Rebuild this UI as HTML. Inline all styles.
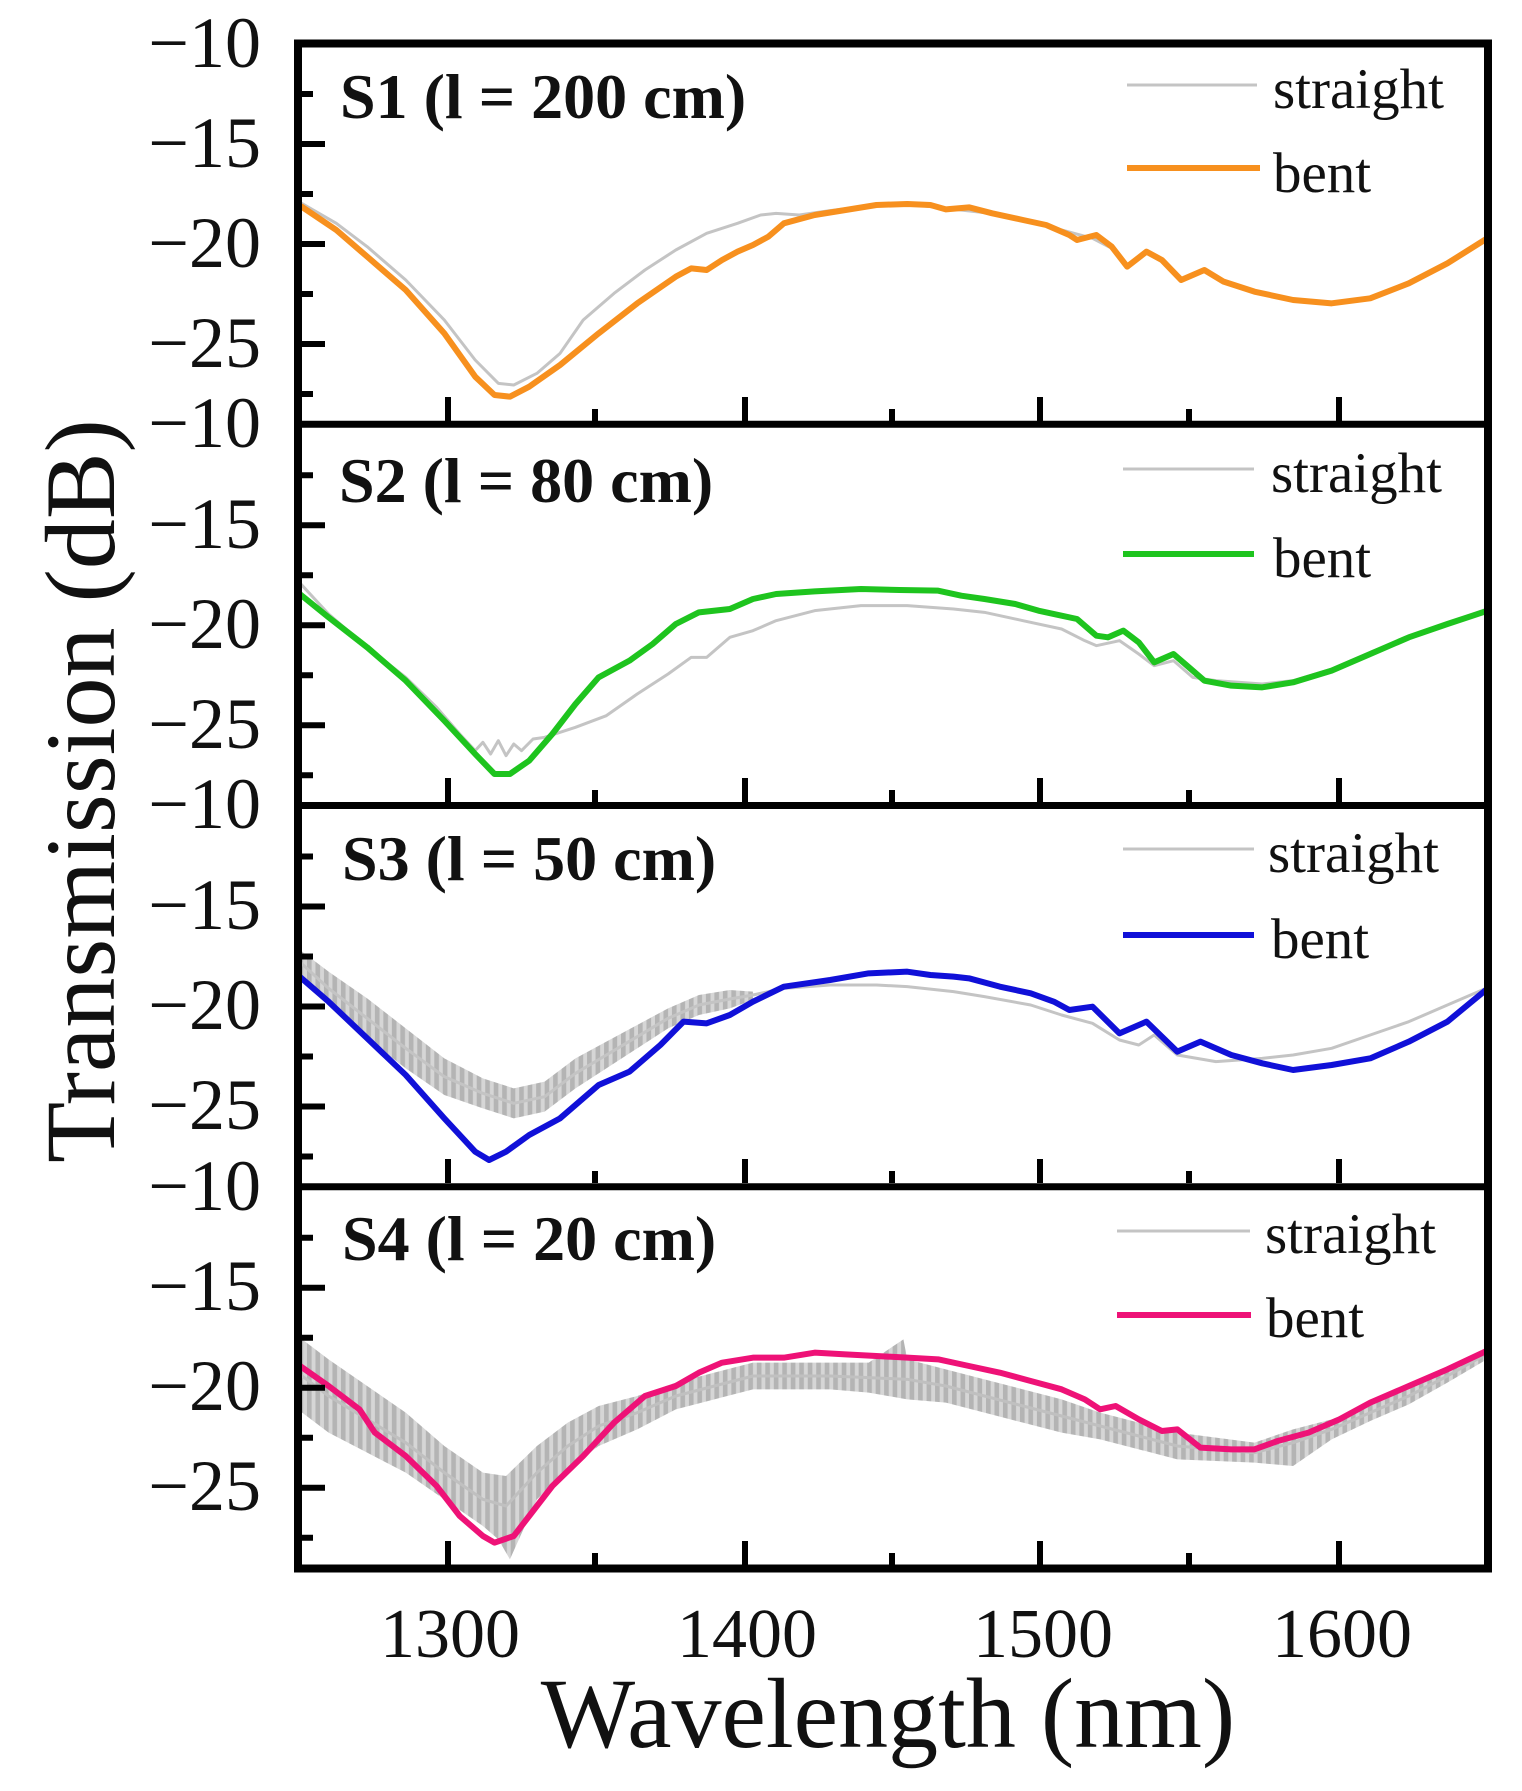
<!DOCTYPE html>
<html><head><meta charset="utf-8">
<style>html,body{margin:0;padding:0;background:#fff}svg{display:block}</style>
</head><body>
<svg xmlns="http://www.w3.org/2000/svg" width="1522" height="1791" viewBox="0 0 1522 1791">
<defs>
<clipPath id="c1"><rect x="300" y="45" width="1186" height="378"/></clipPath>
<clipPath id="c2"><rect x="300" y="426" width="1186" height="378"/></clipPath>
<clipPath id="c3"><rect x="300" y="807" width="1186" height="378"/></clipPath>
<clipPath id="c4"><rect x="300" y="1188" width="1186" height="378"/></clipPath>
<pattern id="st" patternUnits="userSpaceOnUse" width="11" height="40"><rect width="11" height="40" fill="#d6d6d6"/><rect width="6" height="40" fill="#b4b4b4"/></pattern>
</defs>
<rect width="1522" height="1791" fill="#fff"/>

<g fill="none" stroke-linejoin="round" stroke-linecap="round">
<!-- Panel 1 -->
<g clip-path="url(#c1)"><g transform="translate(290,180) scale(0.7716,0.33333)">
<path vector-effect="non-scaling-stroke" stroke="#c4c4c4" stroke-width="3" d="M15,70 L60,130 L100,200 L150,300 L200,420 L240,540 L270,610 L290,615 L320,580 L350,520 L380,420 L420,340 L460,270 L500,210 L540,160 L580,130 L610,105 L630,100 L660,105 L700,92 L760,75 L800,72 L850,85 L900,98 L950,120 L1000,150 L1040,175 L1065,205 L1085,255 L1110,220 L1130,245 L1155,295 L1185,275 L1210,305 L1250,335 L1300,360 L1350,370 L1400,355 L1450,310 L1500,250 L1555,170"/>
<path vector-effect="non-scaling-stroke" stroke="#f7901e" stroke-width="6" d="M15,80 L60,150 L100,230 L150,330 L200,460 L240,590 L265,645 L285,650 L310,620 L350,555 L400,460 L450,370 L500,290 L520,265 L540,270 L560,240 L580,215 L600,195 L620,170 L640,130 L680,105 L720,90 L760,75 L800,72 L830,75 L850,88 L880,82 L910,100 L950,120 L980,135 L1010,165 L1020,180 L1045,165 L1065,200 L1085,260 L1110,215 L1130,240 L1155,300 L1185,270 L1210,305 L1250,335 L1300,360 L1350,370 L1400,355 L1450,310 L1500,250 L1555,170"/>
</g></g>
<!-- Panel 2 -->
<g clip-path="url(#c2)"><g transform="translate(290,534) scale(0.7716,0.33333)">
<path vector-effect="non-scaling-stroke" stroke="#c4c4c4" stroke-width="3" d="M10,140 L50,240 L100,340 L150,430 L190,520 L220,600 L240,650 L250,625 L260,660 L270,620 L280,665 L290,630 L300,650 L315,615 L330,610 L370,580 L410,545 L450,480 L490,420 L520,370 L540,370 L570,310 L600,290 L630,260 L680,230 L740,215 L800,215 L860,225 L900,235 L950,260 L1000,285 L1030,320 L1045,335 L1075,320 L1100,360 L1120,395 L1145,380 L1170,430 L1200,440 L1260,450 L1300,440 L1350,405 L1400,355 L1450,310 L1500,268 L1555,222"/>
<path vector-effect="non-scaling-stroke" stroke="#1ec41e" stroke-width="6" d="M10,175 L50,250 L100,340 L150,440 L200,560 L240,660 L265,720 L285,720 L310,680 L340,600 L370,510 L400,430 L440,380 L470,330 L500,270 L530,235 L570,225 L600,195 L630,180 L680,172 L740,165 L790,168 L840,170 L870,185 L900,195 L940,210 L970,230 L1000,245 L1020,255 L1045,305 L1060,310 L1080,290 L1100,325 L1120,385 L1145,360 L1165,400 L1185,440 L1220,455 L1260,460 L1300,445 L1350,410 L1400,360 L1450,310 L1500,270 L1555,228"/>
</g></g>
<!-- Panel 3 -->
<g clip-path="url(#c3)"><g transform="translate(290,915) scale(0.7716,0.33333)">
<polygon fill="url(#st)" stroke="none" points="10,100 50,170 100,250 150,340 200,430 250,490 290,520 330,500 370,430 410,380 450,330 490,280 530,240 570,225 600,230 600,255 570,280 530,300 490,340 450,400 410,460 370,520 330,590 290,610 250,580 200,540 150,460 100,370 50,270 10,170"/>
<path vector-effect="non-scaling-stroke" stroke="#c4c4c4" stroke-width="3" d="M10,135 L50,220 L100,310 L150,400 L200,485 L250,535 L290,565 L330,545 L370,475 L410,420 L450,365 L490,310 L530,270 L570,252 L600,240 L640,220 L700,210 L760,210 L800,215 L860,230 L900,245 L960,270 L1000,300 L1040,325 L1075,375 L1100,390 L1120,360 L1150,420 L1200,440 L1260,430 L1300,420 L1350,400 L1400,360 L1450,320 L1500,270 L1555,215"/>
<path vector-effect="non-scaling-stroke" stroke="#1010d8" stroke-width="6" d="M10,180 L50,260 L100,370 L150,480 L200,610 L240,710 L258,735 L280,710 L310,660 L350,610 L400,510 L440,470 L480,390 L510,320 L540,325 L570,300 L600,260 L640,215 L700,195 L750,175 L800,170 L830,180 L860,185 L880,190 L920,215 L960,235 L990,260 L1010,285 L1040,275 L1075,355 L1110,320 L1150,410 L1180,380 L1220,420 L1260,445 L1300,465 L1350,450 L1400,430 L1450,380 L1500,320 L1555,215"/>
</g></g>
<!-- Panel 4 -->
<g clip-path="url(#c4)"><g transform="translate(290,1286) scale(0.7716,0.33333)">
<polygon fill="url(#st)" stroke="none" points="10,150 50,220 100,300 150,380 200,480 250,560 280,570 320,480 360,410 400,360 450,330 500,290 550,260 600,230 650,230 700,230 750,230 795,160 800,220 850,250 900,280 950,310 1000,340 1050,380 1100,410 1150,440 1200,455 1250,470 1300,430 1350,400 1400,355 1450,305 1500,250 1555,180 1555,215 1500,290 1450,355 1400,405 1350,460 1300,540 1250,530 1200,525 1150,520 1100,490 1050,460 1000,440 950,410 900,380 850,350 800,340 750,320 700,310 650,310 600,310 550,340 500,370 450,430 400,480 360,550 320,640 285,820 270,760 250,720 200,640 150,560 100,500 50,440 10,370"/>
<path vector-effect="non-scaling-stroke" stroke="#c0c0c0" stroke-width="3" d="M10,260 L50,330 L100,400 L150,470 L200,560 L250,640 L280,660 L320,560 L360,480 L400,420 L450,380 L500,330 L550,300 L600,270 L650,270 L700,270 L750,275 L800,280 L850,300 L900,330 L950,360 L1000,390 L1050,420 L1100,450 L1150,480 L1200,490 L1250,500 L1300,470 L1350,430 L1400,380 L1450,330 L1500,270 L1555,198"/>
<path vector-effect="non-scaling-stroke" stroke="#ee1277" stroke-width="6" d="M10,235 L50,300 L90,370 L110,440 L150,510 L190,600 L220,690 L250,750 L265,770 L290,750 L310,690 L340,600 L380,510 L420,410 L460,330 L500,300 L530,260 L560,230 L600,215 L640,215 L680,200 L720,205 L760,210 L800,215 L840,220 L880,240 L920,260 L960,285 L1000,310 L1030,340 L1050,370 L1070,360 L1100,400 L1130,435 L1150,430 L1180,485 L1220,490 L1250,490 L1280,465 L1320,440 L1360,400 L1400,350 L1450,300 L1500,250 L1555,190"/>
</g></g>
</g>

<!-- Frame -->
<g stroke="#000" fill="none">
<rect x="298" y="43.5" width="1190" height="1525" stroke-width="8"/>
<line x1="298" y1="424.25" x2="1488" y2="424.25" stroke-width="7"/>
<line x1="298" y1="805.5" x2="1488" y2="805.5" stroke-width="7"/>
<line x1="298" y1="1186.75" x2="1488" y2="1186.75" stroke-width="7"/>
</g>

<!-- Ticks -->
<g stroke="#000" stroke-width="6">
<path d="M302,144H325M302,244H325M302,344H325M302,94H313M302,194H313M302,294H313M302,394H313"/>
<path d="M302,525.25H325M302,625.25H325M302,725.25H325M302,475.25H313M302,575.25H313M302,675.25H313M302,775.25H313"/>
<path d="M302,906.5H325M302,1006.5H325M302,1106.5H325M302,856.5H313M302,956.5H313M302,1056.5H313M302,1156.5H313"/>
<path d="M302,1287.75H325M302,1387.75H325M302,1487.75H325M302,1237.75H313M302,1337.75H313M302,1437.75H313M302,1537.75H313"/>
<path d="M448,421V397M745,421V397M1040,421V397M1339,421V397M595,421V409M892,421V409M1189,421V409"/>
<path d="M448,802V778M745,802V778M1040,802V778M1339,802V778M595,802V790M892,802V790M1189,802V790"/>
<path d="M448,1183V1159M745,1183V1159M1040,1183V1159M1339,1183V1159M595,1183V1171M892,1183V1171M1189,1183V1171"/>
<path d="M448,1565V1541M745,1565V1541M1040,1565V1541M1339,1565V1541M595,1565V1553M892,1565V1553M1189,1565V1553"/>
</g>

<!-- Y tick labels -->
<g font-family="'Liberation Serif', 'Times New Roman', serif" font-size="72" fill="#111" text-anchor="end">
<text x="261" y="67">−10</text><text x="261" y="167">−15</text><text x="261" y="267">−20</text><text x="261" y="367">−25</text>
<text x="261" y="447">−10</text><text x="261" y="548">−15</text><text x="261" y="648">−20</text><text x="261" y="748">−25</text>
<text x="261" y="828">−10</text><text x="261" y="929">−15</text><text x="261" y="1029">−20</text><text x="261" y="1129">−25</text>
<text x="261" y="1210">−10</text><text x="261" y="1310">−15</text><text x="261" y="1410">−20</text><text x="261" y="1510">−25</text>
</g>

<!-- X tick labels -->
<g font-family="'Liberation Serif', 'Times New Roman', serif" font-size="70" fill="#111" text-anchor="middle">
<text x="450" y="1657">1300</text><text x="747" y="1657">1400</text><text x="1043" y="1657">1500</text><text x="1342" y="1657">1600</text>
</g>

<!-- Axis titles -->
<g font-family="'Liberation Serif', 'Times New Roman', serif" font-size="100" fill="#111" text-anchor="middle">
<text x="888" y="1747">Wavelength (nm)</text>
<text transform="translate(114,791) rotate(-90)">Transmission (dB)</text>
</g>

<!-- Panel labels -->
<g font-family="'Liberation Serif', 'Times New Roman', serif" font-size="64" font-weight="bold" fill="#111">
<text x="340" y="118">S1 (l = 200 cm)</text>
<text x="339" y="502">S2 (l = 80 cm)</text>
<text x="342" y="880">S3 (l = 50 cm)</text>
<text x="342" y="1260">S4 (l = 20 cm)</text>
</g>

<!-- Legends -->
<g stroke-linecap="butt">
<line x1="1127" y1="85" x2="1257" y2="85" stroke="#c4c4c4" stroke-width="3"/>
<line x1="1127" y1="168" x2="1260" y2="168" stroke="#f7901e" stroke-width="6"/>
<line x1="1123" y1="469" x2="1254" y2="469" stroke="#c4c4c4" stroke-width="3"/>
<line x1="1123" y1="554" x2="1254" y2="554" stroke="#1ec41e" stroke-width="6"/>
<line x1="1123" y1="849" x2="1254" y2="849" stroke="#c4c4c4" stroke-width="3"/>
<line x1="1123" y1="935" x2="1254" y2="935" stroke="#1010d8" stroke-width="6"/>
<line x1="1117" y1="1231" x2="1250" y2="1231" stroke="#c4c4c4" stroke-width="3"/>
<line x1="1117" y1="1315" x2="1251" y2="1315" stroke="#ee1277" stroke-width="6"/>
</g>
<g font-family="'Liberation Serif', 'Times New Roman', serif" font-size="57" fill="#111">
<text x="1273" y="108">straight</text><text x="1273" y="192">bent</text>
<text x="1271" y="492">straight</text><text x="1273" y="577">bent</text>
<text x="1268" y="872">straight</text><text x="1271" y="958">bent</text>
<text x="1265" y="1253">straight</text><text x="1266" y="1337">bent</text>
</g>
</svg>
</body></html>
